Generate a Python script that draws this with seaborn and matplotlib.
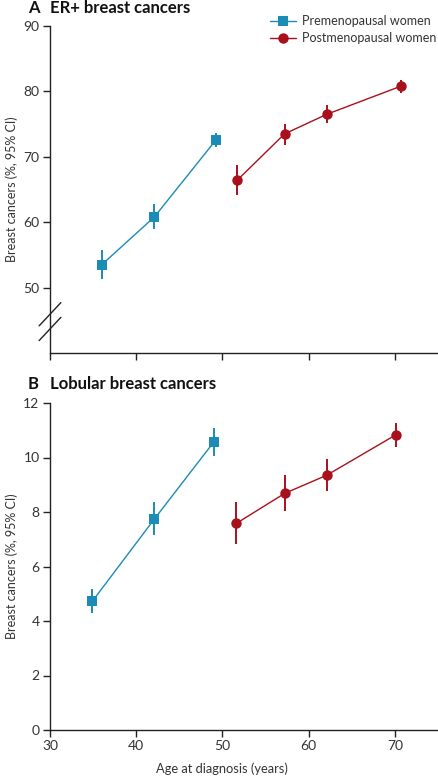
import matplotlib
matplotlib.use("Agg")
import matplotlib.pyplot as plt
import seaborn as sns
import pandas as pd

# ---- data ----
groups = ["Premenopausal women", "Postmenopausal women"]

pre_age_A = [36.0, 42.1, 49.2]
pre_val_A = [53.5, 60.8, 72.5]
pre_lo_A = [51.3, 58.9, 71.5]
pre_hi_A = [55.8, 62.8, 73.7]
post_age_A = [51.7, 57.2, 62.1, 70.7]
post_val_A = [66.4, 73.5, 76.5, 80.8]
post_lo_A = [64.2, 71.8, 75.1, 79.8]
post_hi_A = [68.8, 75.0, 77.9, 81.8]

pre_age_B = [34.9, 42.1, 49.0]
pre_val_B = [4.72, 7.74, 10.57]
pre_lo_B = [4.28, 7.14, 10.07]
pre_hi_B = [5.18, 8.35, 11.09]
post_age_B = [51.6, 57.2, 62.1, 70.1]
post_val_B = [7.58, 8.68, 9.35, 10.83]
post_lo_B = [6.82, 8.03, 8.78, 10.37]
post_hi_B = [8.35, 9.35, 9.94, 11.28]

x_ticks = [30, 40, 50, 60, 70]
y_ticks_A = [50, 60, 70, 80, 90]
y_ticks_B = [0, 2, 4, 6, 8, 10, 12]

titles = [("A", "ER+ breast cancers"), ("B", "Lobular breast cancers")]
ylabel = "Breast cancers (%, 95% CI)"
xlabel = "Age at diagnosis (years)"

colors = {"Premenopausal women": "#1a8cb6", "Postmenopausal women": "#a8101b"}
markers = {"Premenopausal women": "s", "Postmenopausal women": "o"}

sns.set_theme(style="ticks")
plt.rcParams["font.family"] = ["Lato", "DejaVu Sans"]

W, H = 438, 778
fig = plt.figure(figsize=(W / 100, H / 100), dpi=100)

def px_axes(l, t, r, b):
    return fig.add_axes([l / W, 1 - b / H, (r - l) / W, (b - t) / H])

axA = px_axes(50, 26, 438, 353)
axB = px_axes(50, 403, 438, 730)

def make_df(pa, pv, qa, qv):
    return pd.DataFrame({
        "age": list(pa) + list(qa),
        "val": list(pv) + list(qv),
        "group": [groups[0]] * len(pa) + [groups[1]] * len(qa),
    })

panels = [
    (axA, make_df(pre_age_A, pre_val_A, post_age_A, post_val_A),
     [(pre_age_A, pre_lo_A, pre_hi_A, groups[0]), (post_age_A, post_lo_A, post_hi_A, groups[1])]),
    (axB, make_df(pre_age_B, pre_val_B, post_age_B, post_val_B),
     [(pre_age_B, pre_lo_B, pre_hi_B, groups[0]), (post_age_B, post_lo_B, post_hi_B, groups[1])]),
]

spine_col = "#222222"
text_col = "#333333"

for i, (ax, df, cis) in enumerate(panels):
    for xa, lo, hi, g in cis:
        ax.vlines(xa, lo, hi, color=colors[g], lw=1.4, zorder=2)
    sns.lineplot(data=df, x="age", y="val", hue="group", style="group",
                 palette=colors, markers=markers, dashes=False, markersize=7.5,
                 markeredgewidth=0, linewidth=1.0, errorbar=None, ax=ax,
                 legend=(i == 0), zorder=3, sort=True)
    ax.set_xlim(30, 75)
    ax.set_xticks(x_ticks)
    sns.despine(ax=ax)
    for s in ["left", "bottom"]:
        ax.spines[s].set_color(spine_col)
        ax.spines[s].set_linewidth(1.0)
    ax.tick_params(axis="both", colors=spine_col, labelcolor=text_col,
                   length=5, width=1.0, labelsize=10, pad=2.5)
    ax.set_ylabel(ylabel, fontsize=9, color=text_col, labelpad=4)
    ax.set_xlabel("")

axA.set_ylim(40, 90)
axA.set_yticks(y_ticks_A)
axA.set_xticklabels([])
axA.spines["left"].set_bounds(40, 90)

axB.set_ylim(0, 12)
axB.set_yticks(y_ticks_B)
axB.set_xticklabels([str(t) for t in x_ticks])
axB.set_xlabel(xlabel, fontsize=9.3, color=text_col)
axB.xaxis.set_label_coords((222 - 50) / 388, -0.098)

# axis break marks on panel A
for yoff in (0.0, -0.045):
    axA.plot([-0.028, 0.028], [0.083 + yoff, 0.154 + yoff], transform=axA.transAxes,
             color=spine_col, lw=1.0, clip_on=False, zorder=5)

# legend
sns.move_legend(axA, "upper left", bbox_to_anchor=(270 / W, 1 - 15 / H),
                bbox_transform=fig.transFigure, frameon=False, title=None,
                fontsize=9, handlelength=2.1, handletextpad=0.5,
                labelspacing=0.4, borderaxespad=0, borderpad=0)
for t in axA.get_legend().get_texts():
    t.set_color(text_col)

# panel titles
title_font = ["Liberation Sans Narrow", "Lato", "DejaVu Sans"]
for (letter, title), ybase in zip(titles, [13, 389]):
    fig.text(28 / W, 1 - ybase / H, letter, fontsize=12, fontweight="bold",
             color="#111111", va="baseline", family=title_font)
    fig.text(50 / W, 1 - ybase / H, title, fontsize=12, fontweight="bold",
             color="#111111", va="baseline", family=title_font)

fig.savefig("out.png", dpi=100)
